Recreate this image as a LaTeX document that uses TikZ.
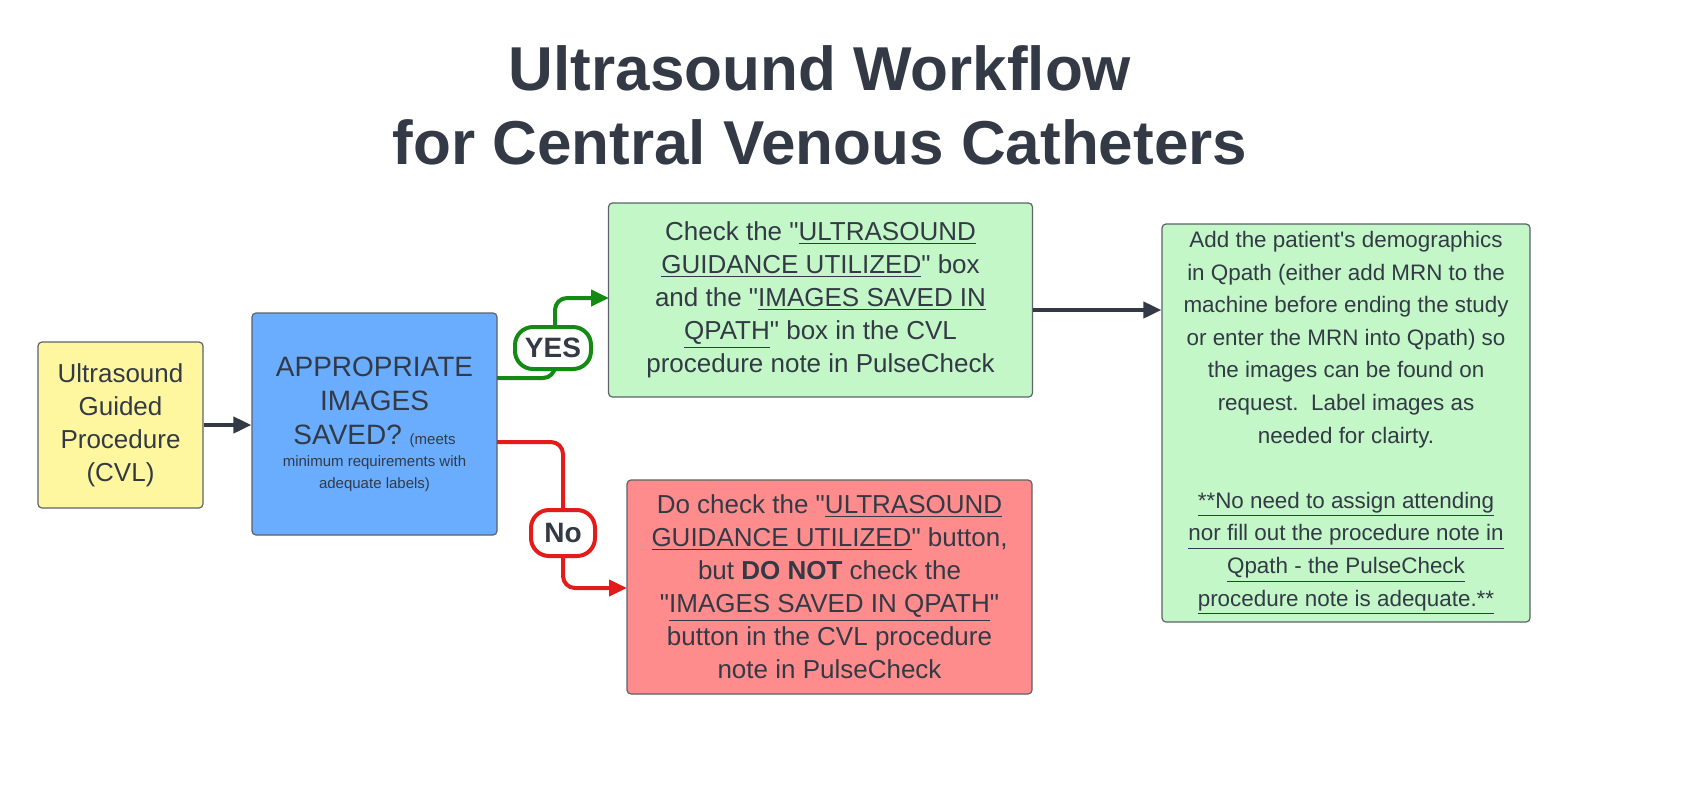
\documentclass[tikz,border=0pt]{standalone}
\usepackage{fontspec}
\setmainfont{Liberation Sans}[Ligatures=TeXOff]
\usetikzlibrary{arrows.meta}
\newcommand\qq{\symbol{34}}
\newcommand\ap{\symbol{39}}
\definecolor{ink}{HTML}{333A45}
\definecolor{cyel}{HTML}{FFF7A0}
\definecolor{cblue}{HTML}{6AADFF}
\definecolor{cgreen}{HTML}{C3F7C8}
\definecolor{cred}{HTML}{FF8C8C}
\definecolor{lgreen}{HTML}{138A12}
\definecolor{lred}{HTML}{E31B1B}
\tikzset{
 box/.style={draw=ink!80,line width=0.6pt,rounded corners=2pt,align=center,text=ink,inner sep=0pt},
 conn/.style={line width=2pt,-{Triangle[length=9pt,width=8pt]}},
 tag/.style={draw,line width=2pt,rounded corners=9pt,fill=white,font=\fontsize{14}{16}\selectfont\bfseries,text=ink,minimum width=38pt,minimum height=21pt,inner sep=1pt}
}
\begin{document}
\begin{tikzpicture}[x=0.5pt,y=-0.5pt]
\useasboundingbox (0,0) rectangle (1700,794);
\node[text=ink,align=center,font=\fontsize{31}{37}\selectfont\bfseries] (title) at (820,105) {Ultrasound Workflow\\for Central Venous Catheters};
\node[box,fill=cyel,minimum width=82.5pt,minimum height=83pt,font=\fontsize{13}{16.5}\selectfont] (a) at (120.5,425) {Ultrasound\\Guided\\Procedure\\(CVL)};
\node[box,fill=cblue,minimum width=122.5pt,minimum height=111pt,font=\fontsize{14}{17}\selectfont] (b) at (374.5,424) {APPROPRIATE\\IMAGES\\SAVED? {\fontsize{7.5}{9}\selectfont(meets}\\[-6pt]{\fontsize{7.5}{9.5}\selectfont minimum requirements with}\\[-6pt]{\fontsize{7.5}{9.5}\selectfont adequate labels)}};
\node[box,fill=cgreen,minimum width=212pt,minimum height=97pt,font=\fontsize{13}{16.5}\selectfont] (c) at (820.5,300) {Check the \qq\underline{ULTRASOUND}\\\underline{GUIDANCE UTILIZED}\qq{} box\\and the \qq\underline{IMAGES SAVED IN}\\\underline{QPATH}\qq{} box in the CVL\\procedure note in PulseCheck};
\node[box,fill=cred,minimum width=202.5pt,minimum height=107pt,font=\fontsize{13}{16.5}\selectfont] (d) at (829.5,587) {Do check the \qq\underline{ULTRASOUND}\\\underline{GUIDANCE UTILIZED}\qq{} button,\\but \textbf{DO NOT} check the\\\qq\underline{IMAGES SAVED IN QPATH}\qq\\button in the CVL procedure\\note in PulseCheck};
\node[box,fill=cgreen,minimum width=184pt,minimum height=199pt,font=\fontsize{11.2}{16.3}\selectfont] (e) at (1346,423) {Add the patient\ap{}s demographics\\in Qpath (either add MRN to the\\machine before ending the study\\or enter the MRN into Qpath) so\\the images can be found on\\request.\ \ Label images as\\needed for clairty.\\[16.3pt]\underline{**No need to assign attending}\\\underline{nor fill out the procedure note in}\\\underline{Qpath - the PulseCheck}\\\underline{procedure note is adequate.**}};
\coordinate (bg1) at (497,378);
\coordinate (bg2) at (555,378);
\coordinate (bg3) at (555,298);
\coordinate (cg) at (609,298);
\coordinate (br1) at (497,442);
\coordinate (br2) at (563,442);
\coordinate (br3) at (563,588);
\coordinate (dr) at (627,588);
\draw[conn,ink] (a.east |- 0,425) -- (b.west |- 0,425);
\draw[conn,lgreen,rounded corners=6pt] (bg1) -- (bg2) -- (bg3) -- (cg);
\draw[conn,lred,rounded corners=6pt] (br1) -- (br2) -- (br3) -- (dr);
\draw[conn,ink] (c.east |- 0,310) -- (e.west |- 0,310);
\node[tag,draw=lgreen] (yes) at (553,348) {YES};
\node[tag,draw=lred,minimum width=32pt,minimum height=23pt] (no) at (563,533) {No};
\end{tikzpicture}
\end{document}
